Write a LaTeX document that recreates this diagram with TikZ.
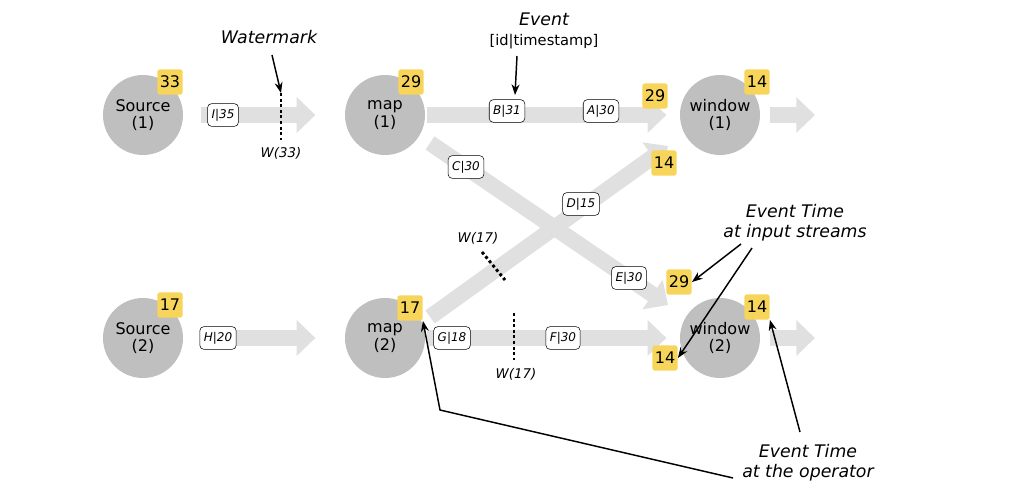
\documentclass[tikz,border=0pt]{standalone}
\usepackage{fontspec}
\setmainfont{DejaVu Sans}
\usetikzlibrary{arrows.meta}
\definecolor{bdg}{HTML}{F7D55A}
\begin{document}
\begin{tikzpicture}[x=0.75pt,y=-0.75pt,
 op/.style={circle,fill=black!25,minimum size=60pt,inner sep=0pt,align=center,font=\fontsize{12}{13}\selectfont},
 flow/.style={draw=black!12,line width=12pt,-{Triangle[length=14pt,width=26pt]}},
 badge/.style={fill=bdg,rounded corners=2pt,minimum size=19pt,inner sep=0pt,font=\fontsize{12}{13}\selectfont},
 ev/.style={draw,fill=white,rounded corners=3pt,inner sep=3pt,minimum height=17pt,font=\itshape\fontsize{9}{10}\selectfont},
 wm/.style={dotted,line width=2.2pt},
 wl/.style={font=\itshape\fontsize{10}{11}\selectfont},
 ann/.style={font=\itshape\fontsize{13}{15}\selectfont,align=center},
 ptr/.style={line width=1.1pt,-{Stealth[length=8pt]}}]
\useasboundingbox (0,0) rectangle (1010,500);
\node[op] (s1) at (143,115) {Source\\(1)};
\node[op] (m1) at (385,115) {map\\(1)};
\node[op] (w1) at (720,115) {window\\(1)};
\node[op] (s2) at (143,338) {Source\\(2)};
\node[op] (m2) at (385,338) {map\\(2)};
\node[op] (w2) at (720,338) {window\\(2)};
\coordinate (o1) at (815,115); \coordinate (o2) at (815,338);
\draw[flow] (s1.east)++(18,0) -- ([xshift=-22]m1.west);
\draw[flow] (m1.east)++(2,0) -- ([xshift=-10]w1.west);
\draw[flow] (w1.east)++(10,0) -- (o1);
\draw[flow] (s2.east)++(18,0) -- ([xshift=-22]m2.west);
\draw[flow] (m2.east)++(2,0) -- ([xshift=-10]w2.west);
\draw[flow] (w2.east)++(10,0) -- (o2);
\coordinate (c1a) at (430,143); \coordinate (c1b) at (668,305);
\coordinate (c2a) at (430,317); \coordinate (c2b) at (668,146);
\draw[flow] (c1a) -- (c1b);
\draw[flow] (c2a) -- (c2b);
\node[badge] (b1) at (170,82) {33};
\node[badge] (b2) at (411,82) {29};
\node[badge] (b3) at (655,96) {29};
\node[badge] (b4) at (757,82) {14};
\node[badge] (b5) at (664,163) {14};
\node[badge] (b6) at (679,282) {29};
\node[badge] (b7) at (170,305) {17};
\node[badge] (b8) at (410,308) {17};
\node[badge] (b9) at (757,307) {14};
\node[badge] (b10) at (665,358) {14};
\node[ev] at (223,115) {I|35};
\node[ev] at (507,111) {B|31};
\node[ev] at (601,111) {A|30};
\node[ev] at (466,167) {C|30};
\node[ev] at (581,204) {D|15};
\node[ev] at (629,278) {E|30};
\node[ev] at (218,338) {H|20};
\node[ev] at (452,338) {G|18};
\node[ev] at (563,338) {F|30};
\coordinate (wa) at (281,93); \coordinate (wb) at (281,140);
\draw[wm] (wa) -- (wb);
\node[wl] at (281,153) {W(33)};
\coordinate (wc) at (482,252); \coordinate (wd) at (505,280);
\draw[wm] (wc) -- (wd);
\node[wl] at (478,238) {W(17)};
\coordinate (we) at (514,313); \coordinate (wf) at (514,360);
\draw[wm] (we) -- (wf);
\node[wl] at (516,374) {W(17)};
\node[ann] (tw) at (269,37) {Watermark};
\draw[ptr] (272,55) -- (wa);
\node[ann] (te) at (544,19) {Event};
\node[font=\fontsize{11}{12}\selectfont] (tid) at (544,42) {[id|timestamp]};
\coordinate (eb) at (515,95);
\draw[ptr] (517,56) -- (eb);
\node[ann] (ti) at (795,223) {Event Time\\at input streams};
\draw[ptr] (741,244) -- (b6.east);
\draw[ptr] (752,248) -- (b10.east);
\node[ann] (to) at (808,463) {Event Time\\at the operator};
\draw[ptr] (733,478) -- (440,410) -- (b8.south east);
\draw[ptr] (800,432) -- (b9.south east);
\end{tikzpicture}
\end{document}
